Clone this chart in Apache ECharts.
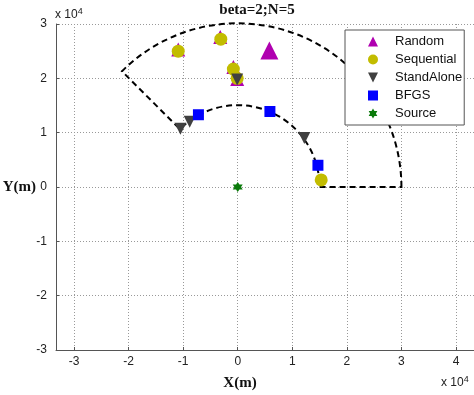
<!DOCTYPE html>
<html>
<head>
<meta charset="utf-8">
<script src="https://cdn.jsdelivr.net/npm/echarts@6/dist/echarts.min.js"></script>
<style>html,body{margin:0;padding:0;background:#fff;}#c{width:474px;height:395px;}</style>
</head>
<body>
<div id="c"></div>
<script>
// ---- data (meters) ----
const xTicks = [-30000, -20000, -10000, 0, 10000, 20000, 30000, 40000];
const yTicks = [-30000, -20000, -10000, 0, 10000, 20000, 30000];
const randomX = [-10900, -3200, 5800, -800, -100];
const randomY = [25300, 27600, 25100, 22100, 19900];
const sequentialX = [-10900, -3100, -800, -100, 15300];
const sequentialY = [25000, 27200, 21700, 20000, 1300];
const standAloneX = [-10500, -8800, -100, 12200];
const standAloneY = [10700, 12000, 19800, 9000];
const bfgsX = [-7200, 5900, 14700];
const bfgsY = [13300, 13900, 4000];
const sourceX = [0];
const sourceY = [0];
const regionCenter = [0, 0];
const regionRadii = [15000, 30000];    // inner, outer
const regionAnglesDeg = [0, 135];     // start, end
const seriesNames = ['Random', 'Sequential', 'StandAlone', 'BFGS', 'Source'];

// ---- styles ----
const largeRandomIndex = 2;
const zip = (xs, ys) => xs.map((x, i) => [x, ys[i]]);
const hexagram = 'path://M0,-10 L2.9,-5 L8.66,-5 L5.8,0 L8.66,5 L2.9,5 L0,10 L-2.9,5 L-8.66,5 L-5.8,0 L-8.66,-5 L-2.9,-5 Z';
const downTriangle = 'path://M0,0 L10,0 L5,10 Z';
const fmt = v => String(Math.round(v / 10000));

const chart = echarts.init(document.getElementById('c'), null, {renderer: 'canvas'});
chart.setOption({
  animation: false,
  backgroundColor: '#fff',
  grid: {left: 56, top: 24, right: 0, bottom: 45, containLabel: false, outerBoundsMode: 'none'},
  xAxis: {
    type: 'value', min: -33300, max: 43300,
    axisLine: {show: true, onZero: false, lineStyle: {color: '#555', width: 1}},
    axisTick: {show: true, inside: true, length: 3, customValues: xTicks, lineStyle: {color: '#555'}},
    axisLabel: {customValues: xTicks, formatter: fmt, color: '#222', fontFamily: 'Liberation Sans', fontSize: 12, margin: 6},
    splitLine: {show: true, lineStyle: {color: '#999', type: [1, 2], width: 1}},
    name: 'X(m)', nameLocation: 'middle', nameGap: 26, nameMoveOverlap: false,
    nameTextStyle: {fontFamily: 'Liberation Serif', fontWeight: 'bold', fontSize: 15, color: '#111', padding: [0, 50, 0, 0]}
  },
  yAxis: {
    type: 'value', min: -30000, max: 30000, interval: 10000,
    axisLine: {show: true, onZero: false, lineStyle: {color: '#555', width: 1}},
    axisTick: {show: true, inside: true, length: 3, lineStyle: {color: '#555'}},
    axisLabel: {formatter: fmt, color: '#222', fontFamily: 'Liberation Sans', fontSize: 12, margin: 9},
    splitLine: {show: true, lineStyle: {color: '#999', type: [1, 2], width: 1}},
    name: 'Y(m)', nameLocation: 'middle', nameGap: 20, nameRotate: 0, nameMoveOverlap: false,
    nameTextStyle: {fontFamily: 'Liberation Serif', fontWeight: 'bold', fontSize: 15, color: '#111', align: 'right', verticalAlign: 'middle'}
  },
  legend: {
    data: [
      {name: 'Random'}, {name: 'Sequential'},
      {name: 'StandAlone', icon: downTriangle},
      {name: 'BFGS'}, {name: 'Source'}
    ],
    orient: 'vertical', left: 345, top: 30,
    padding: [5, 2, 5, 23], itemWidth: 10, itemHeight: 10, itemGap: 5,
    backgroundColor: '#fff', borderColor: '#555', borderWidth: 1,
    textStyle: {fontFamily: 'Liberation Sans', fontSize: 13, color: '#111', padding: [0, 0, 0, 12]}
  },
  graphic: [
    {type: 'text', x: 257, y: 10, style: {text: 'beta=2;N=5', font: 'bold 15px "Liberation Serif"', fill: '#111', textAlign: 'center', textVerticalAlign: 'middle'}},
    {type: 'text', x: 55, y: 7, style: {text: 'x 10{s|4}', font: '12px "Liberation Sans"', fill: '#222', rich: {s: {fontSize: 9, verticalAlign: 'top', padding: [0, 0, 6, 0]}}}},
    {type: 'text', x: 441, y: 375, style: {text: 'x 10{s|4}', font: '12px "Liberation Sans"', fill: '#222', rich: {s: {fontSize: 9, verticalAlign: 'top', padding: [0, 0, 6, 0]}}}}
  ],
  series: [
    {
      type: 'custom', name: 'region', z: 1, silent: true,
      data: [regionCenter],
      renderItem: function (params, api) {
        const c = api.coord(regionCenter);
        const r0 = api.size([regionRadii[0], 0])[0];
        const r = api.size([regionRadii[1], 0])[0];
        return {
          type: 'sector',
          shape: {cx: c[0], cy: c[1], r0: r0, r: r,
            startAngle: -regionAnglesDeg[0] * Math.PI / 180,
            endAngle: -regionAnglesDeg[1] * Math.PI / 180, clockwise: false},
          style: {fill: 'none', stroke: '#000', lineWidth: 2, lineDash: [6, 4]}
        };
      }
    },
    {
      type: 'scatter', name: 'Random', z: 3, symbol: 'triangle',
      data: zip(randomX, randomY).map((p, i) => ({value: p, symbolSize: i === largeRandomIndex ? 18 : 14})),
      itemStyle: {color: '#b000b0', opacity: 1}
    },
    {
      type: 'scatter', name: 'Sequential', z: 4, symbol: 'circle', symbolSize: 13,
      data: zip(sequentialX, sequentialY),
      itemStyle: {color: '#c2bc00', opacity: 1}
    },
    {
      type: 'scatter', name: 'StandAlone', z: 5, symbol: 'triangle', symbolRotate: 180, symbolSize: 12,
      data: zip(standAloneX, standAloneY),
      itemStyle: {color: '#404040', opacity: 1}
    },
    {
      type: 'scatter', name: 'BFGS', z: 6, symbol: 'rect', symbolSize: 11,
      data: zip(bfgsX, bfgsY),
      itemStyle: {color: '#0000ff', opacity: 1}
    },
    {
      type: 'scatter', name: 'Source', z: 7, symbol: hexagram, symbolSize: 10,
      data: zip(sourceX, sourceY),
      itemStyle: {color: '#0a7a0a', opacity: 1}
    }
  ]
});
</script>
</body>
</html>
